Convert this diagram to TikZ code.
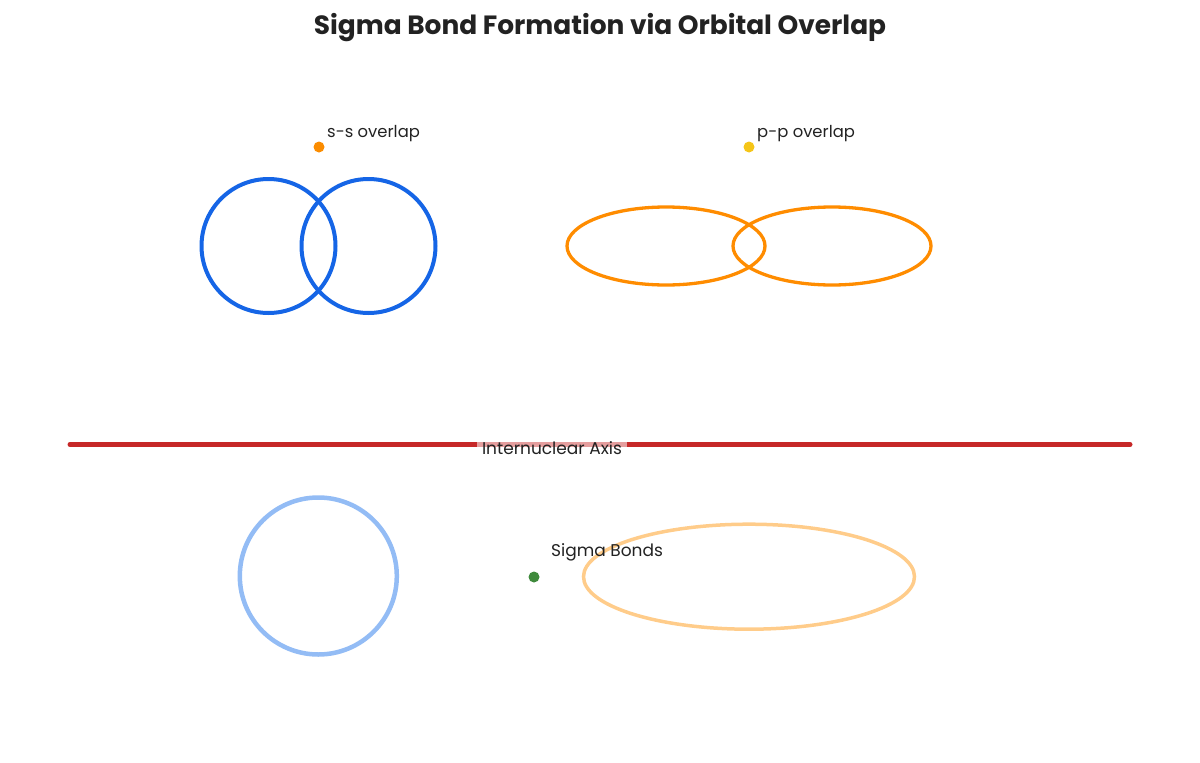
\documentclass[tikz,border=0pt]{standalone}
\usepackage{fontspec}
\setmainfont{Poppins}
\usetikzlibrary{positioning,shapes.geometric}
\definecolor{ink}{HTML}{222222}
\definecolor{sblue}{HTML}{1565E6}
\definecolor{porange}{HTML}{FF8C00}
\definecolor{lblue}{HTML}{93BCF5}
\definecolor{lorange}{HTML}{FFCC8A}
\definecolor{axred}{HTML}{C62828}
\definecolor{dotorange}{HTML}{FB8C00}
\definecolor{dotyellow}{HTML}{F5C518}
\definecolor{dotgreen}{HTML}{3F8A3C}

\begin{document}
\begin{tikzpicture}[x=1pt,y=-1pt,node distance=100pt,
    orb/.style={ellipse,draw,inner sep=0pt},
    dot/.style={circle,fill,inner sep=0pt,minimum size=11pt},
    lbl/.style={font=\fontsize{16.4}{18}\selectfont,text=ink,anchor=base west,inner sep=0pt}]
    \useasboundingbox (0,0) rectangle (1200,763);

    \node[font=\fontsize{26.4}{30}\selectfont\bfseries,text=ink] (title) at (600,28) {Sigma Bond Formation via Orbital Overlap};

    % s-s overlap
    \node[orb,circle,sblue,line width=4pt,minimum size=134pt] (sA) at (268.5,246) {};
    \node[orb,circle,sblue,line width=4pt,minimum size=134pt] (sB) [right of = sA] {};
    \node[dot,dotorange] (ssDot) at (319,147) {};
    \node[lbl] (ssLbl) at ([xshift=8pt,yshift=10pt]ssDot.center) {s-s overlap};

    % p-p overlap
    \node[orb,porange,line width=3.3pt,minimum width=198pt,minimum height=78pt] (pA) at (666,246) {};
    \node[orb,porange,line width=3.3pt,minimum width=198pt,minimum height=78pt] (pB) [right of = pA, xshift=66pt] {};
    \node[dot,dotyellow] (ppDot) at (749,147) {};
    \node[lbl] (ppLbl) at ([xshift=8pt,yshift=10pt]ppDot.center) {p-p overlap};

    % axis
    \coordinate (axL) at (70,444.5);
    \coordinate (axR) at (1130,444.5);
    \draw[axred,line width=5pt,line cap=round] (axL) -- (axR);
    \node[font=\fontsize{17}{19}\selectfont,text=ink,fill=white,fill opacity=0.55,text opacity=1,inner xsep=5pt,inner ysep=3pt] (axLbl) at (552,448) {Internuclear Axis};

    % sigma bonds
    \node[orb,circle,lblue,line width=4.5pt,minimum size=157pt] (sigS) at (318.3,576) {};
    \node[orb,lorange,line width=3.5pt,minimum width=331pt,minimum height=105pt] (sigP) at (749,576.7) {};
    \node[dot,dotgreen] (sigDot) at (534,577) {};
    \node[lbl,font=\fontsize{17}{19}\selectfont] (sigLbl) at ([xshift=17pt,yshift=21pt]sigDot.center) {Sigma Bonds};
\end{tikzpicture}
\end{document}
